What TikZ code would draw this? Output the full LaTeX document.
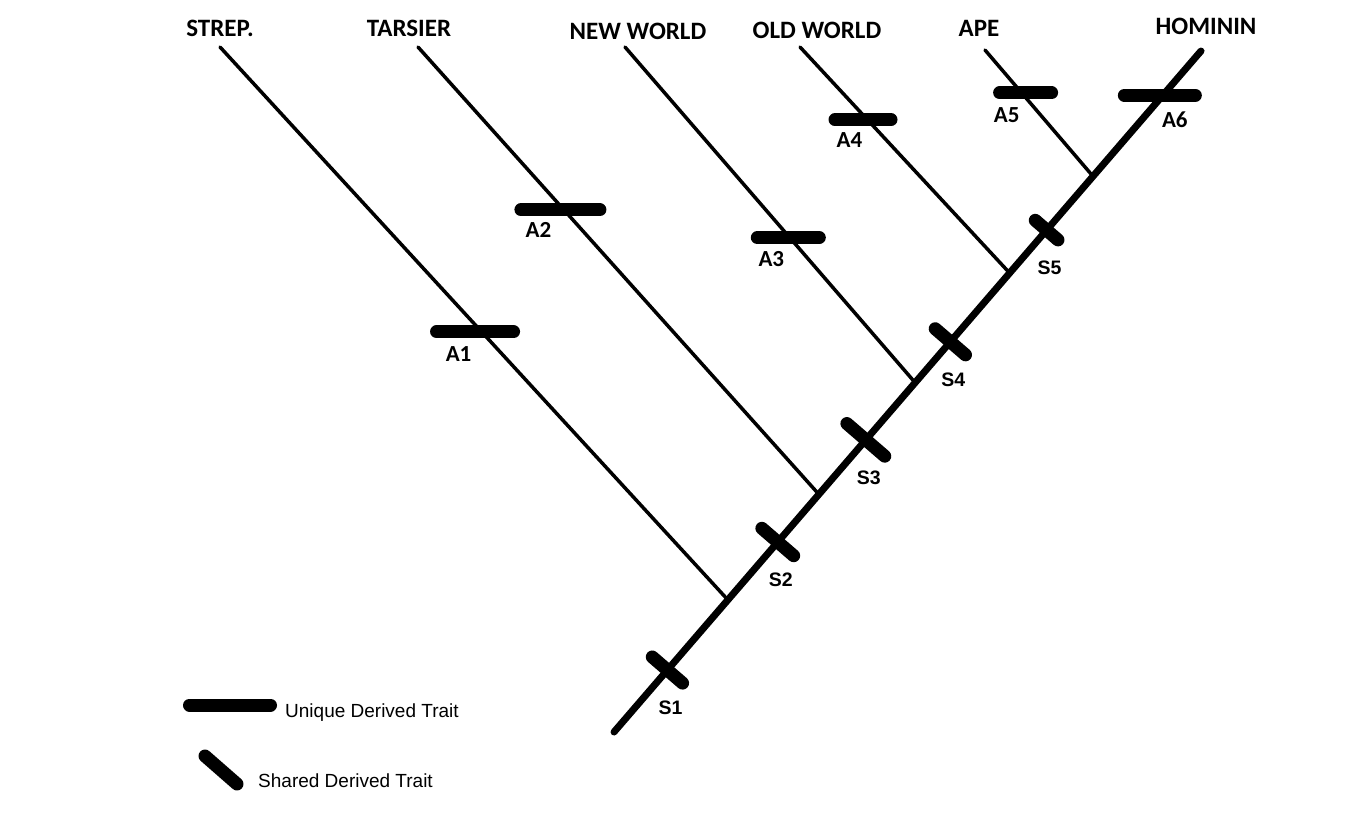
\documentclass[tikz,border=0pt]{standalone}
\usepackage{fontspec}
\setmainfont{Liberation Sans}
\newfontfamily\taxfont{Carlito}
\usetikzlibrary{calc, positioning}
\tikzset{
  branch/.style = {line width=3.5pt, line cap=round},
  trunk/.style = {line width=7pt, line cap=round},
  unique/.style = {line width=13pt, line cap=round},
  shared/.style = {line width=13pt, line cap=round},
  taxon/.style = {font=\taxfont\bfseries\fontsize{25}{25}\selectfont, inner sep=0pt},
  alab/.style = {font=\taxfont\bfseries\fontsize{23}{23}\selectfont, inner sep=0pt},
  slab/.style = {font=\bfseries\fontsize{19.5}{19.5}\selectfont, inner sep=0pt},
  legend/.style = {font=\fontsize{19}{19}\selectfont, inner sep=0pt, anchor=base west}
}

\begin{document}
\begin{tikzpicture}[x=1pt, y=-1pt]
    \useasboundingbox (0,0) rectangle (1350,812);
    % taxa
    \node[taxon] (strep) at (220,28.5) {STREP.};
    \node[taxon] (tarsier) at (409,28.5) {TARSIER};
    \node[taxon] (newworld) at (638,31.5) {NEW WORLD};
    \node[taxon] (oldworld) at (817,30.5) {OLD WORLD};
    \node[taxon] (ape) at (979,28.5) {APE};
    \node[taxon] (hominin) at (1206,26) {HOMININ};
    % trunk and branches
    \coordinate (stem) at (614,732);
    \coordinate (crown) at (1201,51);
    \coordinate (t1) at (220,47);
    \coordinate (t2) at (418,47);
    \coordinate (t3) at (625,47);
    \coordinate (t4) at (800,47);
    \coordinate (t5) at (985,50);
    \coordinate (j1) at ($(stem)!0.194!(crown)$);
    \coordinate (j2) at ($(stem)!0.349!(crown)$);
    \coordinate (j3) at ($(stem)!0.513!(crown)$);
    \coordinate (j4) at ($(stem)!0.674!(crown)$);
    \coordinate (j5) at ($(stem)!0.816!(crown)$);
    \foreach \t/\j in {t1/j1, t2/j2, t3/j3, t4/j4, t5/j5}
        \draw [branch] (\t) -- (\j);
    \draw [trunk] (stem) -- (crown);
    % unique derived traits
    \coordinate (a1) at ($(t1)!0.515!(j1)$);
    \coordinate (a2) at ($(t2)!0.364!(j2)$);
    \coordinate (a3) at ($(t3)!0.568!(j3)$);
    \coordinate (a4) at ($(t4)!0.322!(j4)$);
    \coordinate (a5) at ($(t5)!0.339!(j5)$);
    \coordinate (a6) at ($(stem)!0.935!(crown)$);
    \foreach \c/\l/\r in {a1/45/32, a2/43/36, a3/32.5/29.5, a4/32.5/23.5, a5/22/30, a6/38.5/32.5}
        \draw [unique] ([xshift=-\l pt]\c) -- ([xshift=\r pt]\c);
    \node[alab] (la1) at ([xshift=-23pt, yshift=-22.5pt]a1) {A1};
    \node[alab] (la2) at ([xshift=-25.5pt, yshift=-20.5pt]a2) {A2};
    \node[alab] (la3) at ([xshift=-18.5pt, yshift=-21.5pt]a3) {A3};
    \node[alab] (la4) at ([xshift=-18pt, yshift=-20pt]a4) {A4};
    \node[alab] (la5) at ([xshift=-15pt, yshift=-22pt]a5) {A5};
    \node[alab] (la6) at ([xshift=12pt, yshift=-24.5pt]a6) {A6};
    % shared derived traits
    \coordinate (s1) at ($(stem)!0.091!(crown)$);
    \coordinate (s2) at ($(stem)!0.279!(crown)$);
    \coordinate (s3) at ($(stem)!0.429!(crown)$);
    \coordinate (s4) at ($(stem)!0.573!(crown)$);
    \coordinate (s5) at ($(stem)!0.737!(crown)$);
    \foreach \c/\h in {s1/20, s2/21, s3/25, s4/20, s5/15}
        \draw [shared] ($(\c)!\h pt!90:(crown)$) -- ($(\c)!\h pt!-90:(crown)$);
    \foreach \c/\n in {s1/S1, s2/S2, s3/S3, s4/S4, s5/S5}
        \node[slab] (l\c) at ([xshift=3pt, yshift=-38pt]\c) {\n};
    % legend
    \coordinate (ku1) at (189.5,705);
    \coordinate (ku2) at (270.5,705);
    \coordinate (ks1) at (205,756);
    \coordinate (ks2) at (237,784);
    \draw [unique] (ku1) -- (ku2);
    \draw [shared] (ks1) -- (ks2);
    \node[legend] (lunique) at (285,717) {Unique Derived Trait};
    \node[legend] (lshared) at (258,787.5) {Shared Derived Trait};
\end{tikzpicture}
\end{document}
